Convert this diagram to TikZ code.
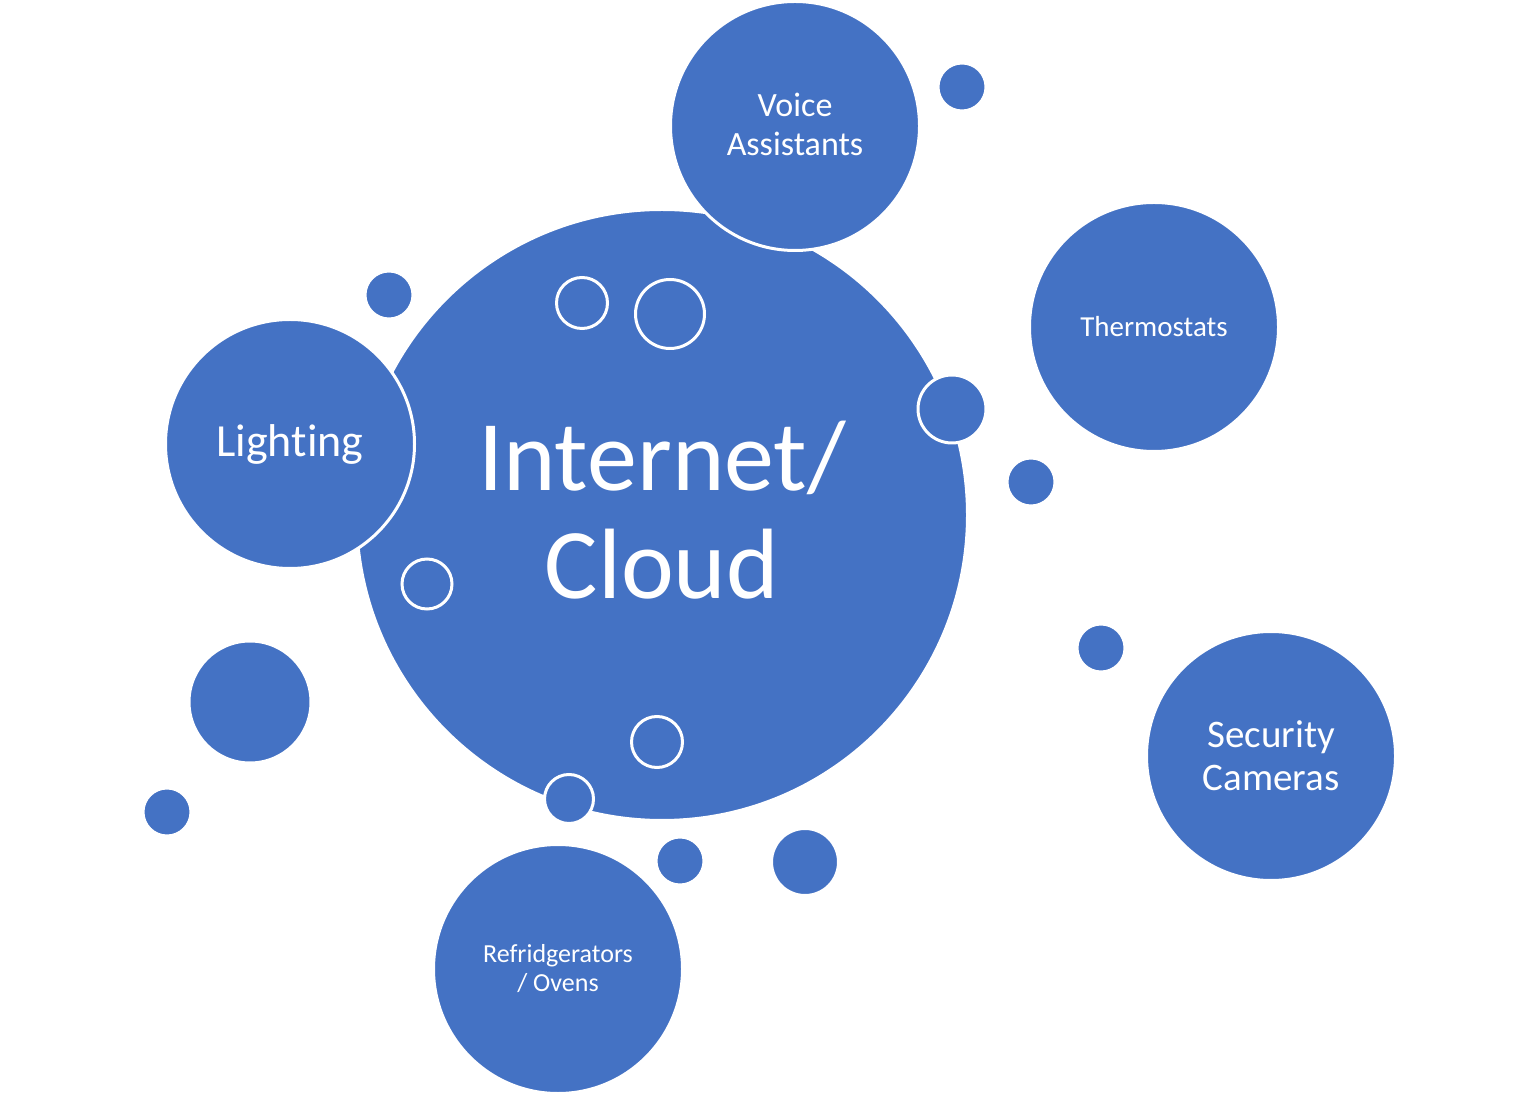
\documentclass[tikz,border=0pt]{standalone}
\usepackage{fontspec}
\setmainfont{Carlito}[Ligatures=NoCommon]
\definecolor{bub}{HTML}{4472C4}
\tikzset{
  bubble/.style={circle, fill=bub, draw=white, line width=1.5pt, inner sep=0pt, text=white, align=center},
}
\begin{document}
\begin{tikzpicture}[x=0.5pt, y=-0.5pt]
\fill[white] (0,0) rectangle (1536,1095);
\useasboundingbox (0,0) rectangle (1536,1095);
% main cloud
\node[bubble, minimum size=611*0.5pt, font=\fontsize{50}{54}\selectfont] (cloud) at (662,515) {};
\node[text=white, align=center, inner sep=0pt, font=\fontsize{50}{54}\selectfont] (cloudtxt) at ([yshift=5*0.5pt]cloud.center) {Internet/\\Cloud};
% satellites
\node[bubble, minimum size=249*0.5pt] (voice) at (795,126) {};
\node[text=white, align=center, inner sep=0pt, font=\fontsize{17}{19.5}\selectfont] (voicetxt) at ([yshift=2*0.5pt]voice.center) {Voice\\Assistants};
\node[bubble, minimum size=249*0.5pt, font=\fontsize{14.5}{16.5}\selectfont] (thermo) at (1154,327) {Thermostats};
\node[bubble, minimum size=249*0.5pt, font=\fontsize{23}{26}\selectfont] (light) at (290,444) {Lighting};
\node[bubble, minimum size=249*0.5pt, font=\fontsize{19.5}{21.5}\selectfont] (secur) at (1271,756) {Security\\Cameras};
\node[bubble, minimum size=249*0.5pt, font=\fontsize{13}{14.5}\selectfont] (fridge) at (558,969) {Refridgerators\\/ Ovens};
% small bubbles
\node[bubble, minimum size=48*0.5pt] (s1) at (962,87) {};
\node[bubble, minimum size=48*0.5pt] (s2) at (389,295) {};
\node[bubble, minimum size=51*0.5pt] (s3) at (582,303) {};
\node[bubble, minimum size=69*0.5pt] (s4) at (670,314) {};
\node[bubble, minimum size=68*0.5pt] (s5) at (952,409) {};
\node[bubble, minimum size=48*0.5pt] (s6) at (1031,482) {};
\node[bubble, minimum size=50*0.5pt] (s7) at (427,584) {};
\node[bubble, minimum size=122*0.5pt] (s8) at (250,702) {};
\node[bubble, minimum size=48*0.5pt] (s9) at (167,812) {};
\node[bubble, minimum size=51*0.5pt] (s10) at (657,742) {};
\node[bubble, minimum size=49*0.5pt] (s11) at (569,799) {};
\node[bubble, minimum size=48*0.5pt] (s12) at (680,861) {};
\node[bubble, minimum size=67*0.5pt] (s13) at (805,862) {};
\node[bubble, minimum size=48*0.5pt] (s14) at (1101,648) {};
\end{tikzpicture}
\end{document}
